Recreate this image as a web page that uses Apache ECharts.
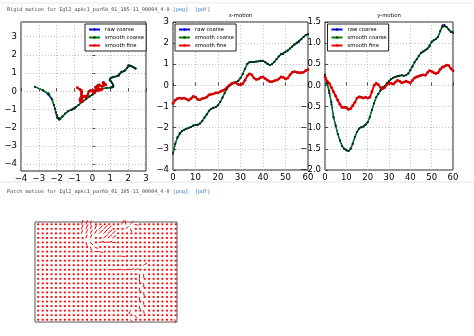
<!DOCTYPE html>
<html>
<head>
<meta charset="utf-8">
<script src="https://cdn.jsdelivr.net/npm/echarts@6/dist/echarts.min.js"></script>
<style>
  html, body { margin: 0; padding: 0; background: #fff; }
  #chart { width: 474px; height: 336px; }
</style>
</head>
<body>
<div id="chart"></div>
<script>
// ---- motion traces (61 frames) ----
const seriesNames = ['raw coarse', 'smooth coarse', 'smooth fine'];

const xRawCoarse = [-3.22,-2.76,-2.48,-2.30,-2.16,-2.10,-2.05,-2.00,-1.97,-1.90,
  -1.87,-1.86,-1.80,-1.68,-1.52,-1.37,-1.20,-1.11,-1.06,-1.02,
  -0.94,-0.78,-0.57,-0.35,-0.16,-0.03,0.06,0.13,0.16,0.22,
  0.35,0.54,0.79,1.02,1.10,1.11,1.11,1.13,1.14,1.17,
  1.16,1.10,1.02,0.97,1.00,1.11,1.24,1.37,1.48,1.49,
  1.59,1.65,1.75,1.84,1.94,2.00,2.07,2.19,2.29,2.38,2.42];
const yRawCoarse = [0.25,0.05,-0.18,-0.40,-0.75,-0.95,-1.15,-1.30,-1.43,-1.50,
  -1.53,-1.55,-1.50,-1.38,-1.22,-1.10,-1.02,-0.99,-0.97,-0.93,
  -0.87,-0.75,-0.58,-0.42,-0.28,-0.20,-0.12,-0.05,-0.02,0.05,
  0.10,0.15,0.18,0.20,0.22,0.23,0.24,0.23,0.24,0.28,
  0.36,0.45,0.55,0.62,0.70,0.77,0.80,0.83,0.87,0.92,
  1.03,1.07,1.10,1.15,1.28,1.42,1.43,1.38,1.32,1.27,1.25];

const xSmoothCoarse = [-3.22,-2.76,-2.44,-2.25,-2.16,-2.10,-2.05,-2.00,-1.97,-1.90,
  -1.87,-1.86,-1.80,-1.68,-1.52,-1.37,-1.20,-1.11,-1.06,-1.02,
  -0.94,-0.78,-0.57,-0.35,-0.16,-0.03,0.06,0.13,0.16,0.22,
  0.35,0.54,0.79,1.02,1.10,1.11,1.11,1.13,1.14,1.17,
  1.16,1.10,1.02,0.97,1.00,1.11,1.24,1.37,1.48,1.52,
  1.59,1.65,1.75,1.84,1.94,2.03,2.11,2.19,2.29,2.38,2.42];
const ySmoothCoarse = [0.25,0.05,-0.12,-0.45,-0.75,-0.95,-1.15,-1.30,-1.43,-1.50,
  -1.53,-1.55,-1.50,-1.38,-1.22,-1.10,-1.02,-0.99,-0.97,-0.93,
  -0.87,-0.75,-0.58,-0.42,-0.28,-0.20,-0.12,-0.05,-0.02,0.05,
  0.10,0.15,0.18,0.20,0.22,0.23,0.24,0.23,0.24,0.28,
  0.36,0.45,0.55,0.62,0.70,0.77,0.80,0.83,0.87,0.95,
  1.03,1.07,1.10,1.15,1.28,1.38,1.40,1.38,1.32,1.27,1.25];

const xSmoothFine = [-0.85,-0.70,-0.62,-0.60,-0.62,-0.60,-0.65,-0.70,-0.62,-0.52,
  -0.55,-0.66,-0.68,-0.62,-0.60,-0.55,-0.45,-0.42,-0.40,-0.35,
  -0.35,-0.30,-0.25,-0.20,-0.10,0.00,0.08,0.12,0.12,0.05,
  0.02,0.08,0.25,0.45,0.55,0.50,0.35,0.28,0.30,0.38,
  0.40,0.32,0.25,0.18,0.17,0.22,0.25,0.30,0.40,0.38,
  0.30,0.35,0.50,0.62,0.65,0.62,0.60,0.60,0.62,0.70,0.75];
const ySmoothFine = [0.20,0.10,0.05,-0.05,-0.15,-0.25,-0.35,-0.45,-0.52,-0.52,
  -0.52,-0.57,-0.55,-0.48,-0.40,-0.30,-0.27,-0.28,-0.30,-0.28,
  -0.30,-0.28,-0.15,0.00,0.05,0.02,-0.05,-0.08,-0.05,0.02,
  0.05,0.05,0.03,0.08,0.12,0.10,0.06,0.08,0.10,0.08,
  0.06,0.12,0.18,0.20,0.22,0.24,0.25,0.24,0.30,0.35,
  0.33,0.30,0.28,0.30,0.38,0.43,0.45,0.48,0.47,0.40,0.35];

// tick values
const rigidXTicks = [-4, -3, -2, -1, 0, 1, 2, 3];
const rigidYTicks = [-4, -3, -2, -1, 0, 1, 2, 3];
const frameTicks = [0, 10, 20, 30, 40, 50, 60];
const xMotionTicks = [-4, -3, -2, -1, 0, 1, 2, 3];
const yMotionTicks = [-2.0, -1.5, -1.0, -0.5, 0.0, 0.5, 1.0, 1.5];

// ---- patch displacement field ----
const patchCols = 32;
const patchRows = 22;
const patchBase = [0.45, 0];           // typical tiny displacement
const patchShifts = [                  // [col, row, dx, dy] (dy > 0 is downward)
  [10,0,0.3,-0.8],[11,0,0.3,-0.8],[12,0,0.2,-0.7],[10,1,0.3,-0.9],[11,1,0.4,-0.9],
  [12,1,0.3,-0.8],[13,1,0.3,-0.7],[10,2,0.2,-0.7],[11,2,0.3,-0.8],[12,2,0.4,-0.7],
  [13,2,0.4,-0.7],[11,3,0.2,-0.6],[12,3,0.3,-0.7],
  [14,1,0.7,-0.7],[15,1,0.8,-0.7],[16,1,0.7,-0.6],[14,2,0.7,-0.7],[15,2,0.8,-0.8],
  [16,2,0.8,-0.7],[17,2,0.6,-0.5],[15,3,0.8,-0.6],[16,3,0.8,-0.7],[17,3,0.7,-0.5],
  [14,4,0.9,-0.2],[15,4,0.9,-0.1],[16,4,0.8,-0.2],[17,4,0.7,0.0],
  [19,0,0.5,-0.8],[20,0,-0.2,-0.8],[21,0,0.6,-0.7],[22,0,0.7,0.2],[21,1,0.3,0.6],[20,1,0.5,-0.5],
  [11,4,0.2,0.6],[12,4,0.5,0.5],[13,5,0.6,0.3],[12,5,0.2,0.6],[13,6,0.7,0.0],[14,6,0.7,0.2],
  [18,7,0.8,0.0],[19,7,0.7,0.1],
  [16,10,0.8,0.0],[17,10,0.8,0.0],[18,10,0.8,-0.1],[19,10,0.8,0.0],[20,10,0.8,-0.1],
  [21,10,0.7,-0.2],[22,10,0.8,-0.2],[24,9,0.7,-0.5],
  [23,11,0.1,0.8],[24,11,0.0,0.7],[23,12,0.1,0.8],[24,13,0.0,0.7],[23,14,0.2,0.8],
  [24,15,0.1,0.7],[23,16,0.1,0.8],[24,17,0.0,0.6],[23,18,0.2,0.7],[24,19,0.1,0.6],
  [21,19,-0.3,0.7],[22,20,0.4,0.6],[21,21,0.5,0.5],[31,21,0.2,0.6]
];

// ---- layout ----
const grids = [
  { left: 21,  top: 22, width: 125, height: 149 },
  { left: 173, top: 22, width: 135, height: 148 },
  { left: 325, top: 22, width: 128, height: 148 },
  { left: 35,  top: 222, width: 142, height: 100 }
];
const FONT = 'DejaVu Sans';

const minusFmt = v => (v < 0 ? '\u2212' + Math.abs(v) : String(v));
const minusFmt1 = v => (v < 0 ? '\u2212' + Math.abs(v).toFixed(1) : v.toFixed(1));

function axis(gridIndex, min, max, ticks, fmt, isY) {
  return {
    type: 'value', gridIndex, min, max,
    axisLine: { show: false },
    axisTick: { show: true, inside: true, length: 3, customValues: ticks,
      lineStyle: { color: '#222', width: 0.8 } },
    axisLabel: { customValues: ticks, formatter: fmt, color: '#000',
      fontSize: 8.5, fontFamily: FONT, margin: isY ? 4 : 3 },
    splitLine: { show: true, customValues: ticks,
      lineStyle: { color: '#b4b4b4', width: 0.8, type: [1, 2] } }
  };
}

const styles = {
  'raw coarse':    { color: '#0000ff', edge: '#00006a', width: 1.2, size: 2.0 },
  'smooth coarse': { color: '#008000', edge: '#003a00', width: 1.3, size: 2.1 },
  'smooth fine':   { color: '#ff0000', edge: '#d00000', width: 2.0, size: 2.8 }
};

function lineSeries(name, idx, data) {
  const s = styles[name];
  return {
    type: 'line', name, xAxisIndex: idx, yAxisIndex: idx, data,
    symbol: 'circle', symbolSize: s.size, showSymbol: true,
    lineStyle: { color: s.color, width: s.width },
    itemStyle: { color: s.edge, borderWidth: 0 },
    emphasis: { disabled: true }, silent: true, animation: false
  };
}

const pairs = (xs, ys) => xs.map((x, i) => [x, ys[i]]);
const byFrame = ys => ys.map((y, i) => [i, y]);

const traces = {
  'raw coarse':    [xRawCoarse, yRawCoarse],
  'smooth coarse': [xSmoothCoarse, ySmoothCoarse],
  'smooth fine':   [xSmoothFine, ySmoothFine]
};

const series = [];
seriesNames.forEach(n => series.push(lineSeries(n, 0, pairs(traces[n][0], traces[n][1]))));
seriesNames.forEach(n => series.push(lineSeries(n, 1, byFrame(traces[n][0]))));
seriesNames.forEach(n => series.push(lineSeries(n, 2, byFrame(traces[n][1]))));

// patch field data
const shiftMap = {};
patchShifts.forEach(([c, r, dx, dy]) => { shiftMap[c + ',' + r] = [dx, dy]; });
const patchData = [];
for (let r = 0; r < patchRows; r++) {
  for (let c = 0; c < patchCols; c++) {
    const v = shiftMap[c + ',' + r];
    patchData.push(v ? [c, r, v[0], v[1], 1] : [c, r, patchBase[0], patchBase[1], 0]);
  }
}
series.push({
  type: 'custom', xAxisIndex: 3, yAxisIndex: 3, data: patchData, clip: false,
  silent: true, animation: false,
  renderItem: (params, api) => {
    const c = api.value(0), r = api.value(1);
    const p0 = api.coord([c, r]);
    const p1 = api.coord([c + api.value(2), r + api.value(3)]);
    const moved = api.value(4) === 1;
    return {
      type: 'line',
      shape: { x1: p0[0], y1: p0[1], x2: p1[0], y2: p1[1] },
      style: { stroke: '#ff0000', lineWidth: moved ? 1.0 : 1.8, lineCap: moved ? 'round' : 'butt' }
    };
  }
});

function legendAt(left) {
  return {
    left, top: 24, orient: 'vertical', data: seriesNames, selectedMode: false,
    backgroundColor: '#fff', borderColor: '#222', borderWidth: 1, borderRadius: 0,
    padding: [3, 2, 3, 3], itemGap: 3, itemWidth: 11, itemHeight: 3,
    itemStyle: { borderWidth: 0 },
    textStyle: { fontSize: 5.3, color: '#000', fontFamily: FONT },
    z: 10
  };
}

function header(y, label) {
  return {
    type: 'text', x: 7, y, silent: true,
    style: {
      text: '{a|' + label + '} {b|[png]}  {b|[pdf]}',
      textVerticalAlign: 'middle',
      rich: {
        a: { fontFamily: 'DejaVu Sans Mono', fontSize: 5.1, fill: '#444' },
        b: { fontFamily: 'DejaVu Sans Mono', fontSize: 5.1, fill: '#2a76c0' }
      }
    }
  };
}

const option = {
  animation: false,
  backgroundColor: '#fff',
  textStyle: { fontFamily: FONT },
  grid: grids.map((g, i) => Object.assign({
    show: true, backgroundColor: '#fff',
    borderColor: i === 3 ? '#555' : '#222', borderWidth: 1, containLabel: false
  }, g)),
  xAxis: [
    axis(0, -4, 3, rigidXTicks, minusFmt, false),
    axis(1, 0, 60, frameTicks, minusFmt, false),
    axis(2, 0, 60, frameTicks, minusFmt, false),
    { type: 'value', gridIndex: 3, min: -0.5, max: patchCols - 0.5, show: false }
  ],
  yAxis: [
    axis(0, -4.37, 3.8, rigidYTicks, minusFmt, true),
    axis(1, -4, 3, xMotionTicks, minusFmt, true),
    axis(2, -2, 1.5, yMotionTicks, minusFmt1, true),
    { type: 'value', gridIndex: 3, min: -0.5, max: patchRows - 0.5, inverse: true, show: false }
  ],
  legend: [legendAt(85), legendAt(175), legendAt(327.5)],
  graphic: [
    { type: 'line', shape: { x1: 0, y1: 3, x2: 474, y2: 3 }, style: { stroke: '#e8e8e8', lineWidth: 1 }, silent: true },
    { type: 'line', shape: { x1: 0, y1: 182, x2: 474, y2: 182 }, style: { stroke: '#e2e2e2', lineWidth: 1 }, silent: true },
    header(9.5, 'Rigid motion for Igl2_apkc1_par6b_01_105-11_00004_4-0'),
    header(191.7, 'Patch motion for Igl2_apkc1_par6b_01_105-11_00004_4-0'),
    { type: 'text', x: grids[1].left + grids[1].width / 2, y: 16, silent: true,
      style: { text: 'x-motion', textAlign: 'center', textVerticalAlign: 'middle', fontSize: 5.3, fontFamily: FONT, fill: '#000' } },
    { type: 'text', x: grids[2].left + grids[2].width / 2, y: 16, silent: true,
      style: { text: 'y-motion', textAlign: 'center', textVerticalAlign: 'middle', fontSize: 5.3, fontFamily: FONT, fill: '#000' } }
  ],
  series
};

const chart = echarts.init(document.getElementById('chart'), null, { renderer: 'canvas' });
chart.setOption(option);
</script>
</body>
</html>
